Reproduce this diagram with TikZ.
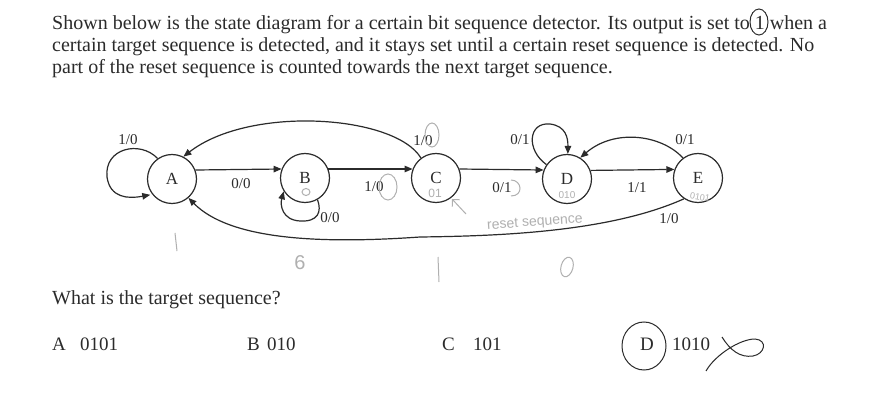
\documentclass[tikz,border=0pt]{standalone}
\usepackage{fontspec}
\setmainfont{Liberation Serif}
\newfontfamily\handfont{Liberation Sans}
\usetikzlibrary{arrows.meta}
\definecolor{ink}{HTML}{2B2B2B}
\definecolor{pencil}{HTML}{B0B0B0}
\begin{document}
\begin{tikzpicture}[x=1pt,y=-1pt,
  state/.style={circle,draw=ink,line width=1.2pt,minimum size=49pt,inner sep=0pt,font=\fontsize{17}{17}\selectfont,text=ink},
  lbl/.style={font=\fontsize{15}{15}\selectfont,text=ink,inner sep=0pt},
  body/.style={font=\fontsize{20}{22}\selectfont,text=ink,anchor=base west,inner sep=0pt},
  opt/.style={font=\fontsize{19}{22}\selectfont,text=ink,anchor=base west,inner sep=0pt},
  edge/.style={draw=ink,line width=1.2pt,-{Triangle[length=8pt,width=6.5pt]}},
  inkpen/.style={draw=ink,line width=1pt},
  pen/.style={draw=pencil,line width=1pt},
  pentext/.style={text=pencil,font=\handfont\fontsize{12}{12}\selectfont,inner sep=0pt}
]
\path[use as bounding box,fill=white] (0,0) rectangle (881,406);

% question text
\node[body] (t1) at (52,30) {Shown below is the state diagram for a certain bit sequence detector. Its output is set to 1 when a};
\node[body] (t2) at (52,52) {certain target sequence is detected, and it stays set until a certain reset sequence is detected. No};
\node[body] (t3) at (52,74) {part of the reset sequence is counted towards the next target sequence.};
\draw[inkpen] (759,22) ellipse [x radius=9, y radius=13];

% states
\node[state] (A) at (172,179) {A};
\node[state] (B) at (305,178) {B};
\node[state] (C) at (436,178) {C};
\node[state] (D) at (567,179) {D};
\node[state] (E) at (698,178) {E};

% transitions
\draw[edge] (A.21) -- (B.159);
\draw[edge] (B.21) -- (C.159);
\draw[edge] (C.21) -- (D.159);
\draw[edge] (D.20) -- (E.160);
\draw[edge,shorten >=2pt] (A.125) .. controls (140,140) and (104,148) .. (107,177) .. controls (110,198) and (128,199) .. (A.218);
\draw[edge] (C.127) .. controls (395,115) and (250,105) .. (A.63);
\draw[edge] (E.236) .. controls (610,232) and (500,236) .. (420,237) .. controls (320,244) and (230,240) .. (A.311);
\draw[edge] (B.300) .. controls (322,212) and (318,222) .. (300,221) .. controls (282,220) and (280,205) .. (B.212);
\draw[edge] (D.145) .. controls (526,150) and (528,122) .. (550,124) .. controls (566,126) and (568,138) .. (D.88);
\draw[edge] (E.127) .. controls (662,135) and (615,128) .. (D.58);

% transition labels
\node[lbl] (l1) at (128,140) {1/0};
\node[lbl] (l2) at (241,184) {0/0};
\node[lbl] (l3) at (374,187) {1/0};
\node[lbl] (l4) at (330,218) {0/0};
\node[lbl] (l5) at (423,141) {1/0};
\node[lbl] (l6) at (502,188) {0/1};
\node[lbl] (l7) at (520,140) {0/1};
\node[lbl] (l8) at (637,188) {1/1};
\node[lbl] (l9) at (685,140) {0/1};
\node[lbl] (l10) at (669,219) {1/0};

% pencil annotations
\draw[pen] (306,192) ellipse [x radius=4, y radius=3.5];
\node[pentext] (pc) at (435,193) {01};
\node[pentext,font=\handfont\fontsize{10}{10}\selectfont] (pd) at (567,195) {010};
\node[pentext,font=\handfont\fontsize{9}{9}\selectfont,rotate=-10] (pe) at (700,197) {0101};
\draw[pen] (175,233) -- (177,251);
\node[pentext,font=\handfont\fontsize{20}{20}\selectfont] (p6) at (300,263) {6};
\draw[pen] (438,257) -- (439,282);
\draw[pen,rotate around={-15:(567,267)}] (567,267) ellipse [x radius=6, y radius=10];
\node[pentext,font=\handfont\fontsize{14}{14}\selectfont,rotate=4] (pr) at (535,223) {reset sequence};
\draw[pen] (388,187) ellipse [x radius=9, y radius=13];
\draw[pen] (432,135) ellipse [x radius=7, y radius=12];
\draw[pen] (511,180) .. controls (522,180) and (524,196) .. (511,196);
\draw[pen,-{Straight Barb[length=5pt]}] (466,214) -- (452,199);

% question and options
\node[body] (q) at (52,305) {What is the target sequence?};
\node[opt] (oa) at (52,350) {A};
\node[opt] (oav) at (80,350) {0101};
\node[opt] (ob) at (247,350) {B};
\node[opt] (obv) at (267,350) {010};
\node[opt] (oc) at (442,350) {C};
\node[opt] (ocv) at (473,350) {101};
\node[opt] (od) at (640,350) {D};
\node[opt] (odv) at (672,350) {1010};
\draw[inkpen] (644,346) ellipse [x radius=22, y radius=24];
\draw[inkpen] (722,337) .. controls (730,350) and (740,358) .. (753,356) .. controls (765,354) and (768,340) .. (755,339) .. controls (740,339) and (715,355) .. (706,371);
\end{tikzpicture}
\end{document}
